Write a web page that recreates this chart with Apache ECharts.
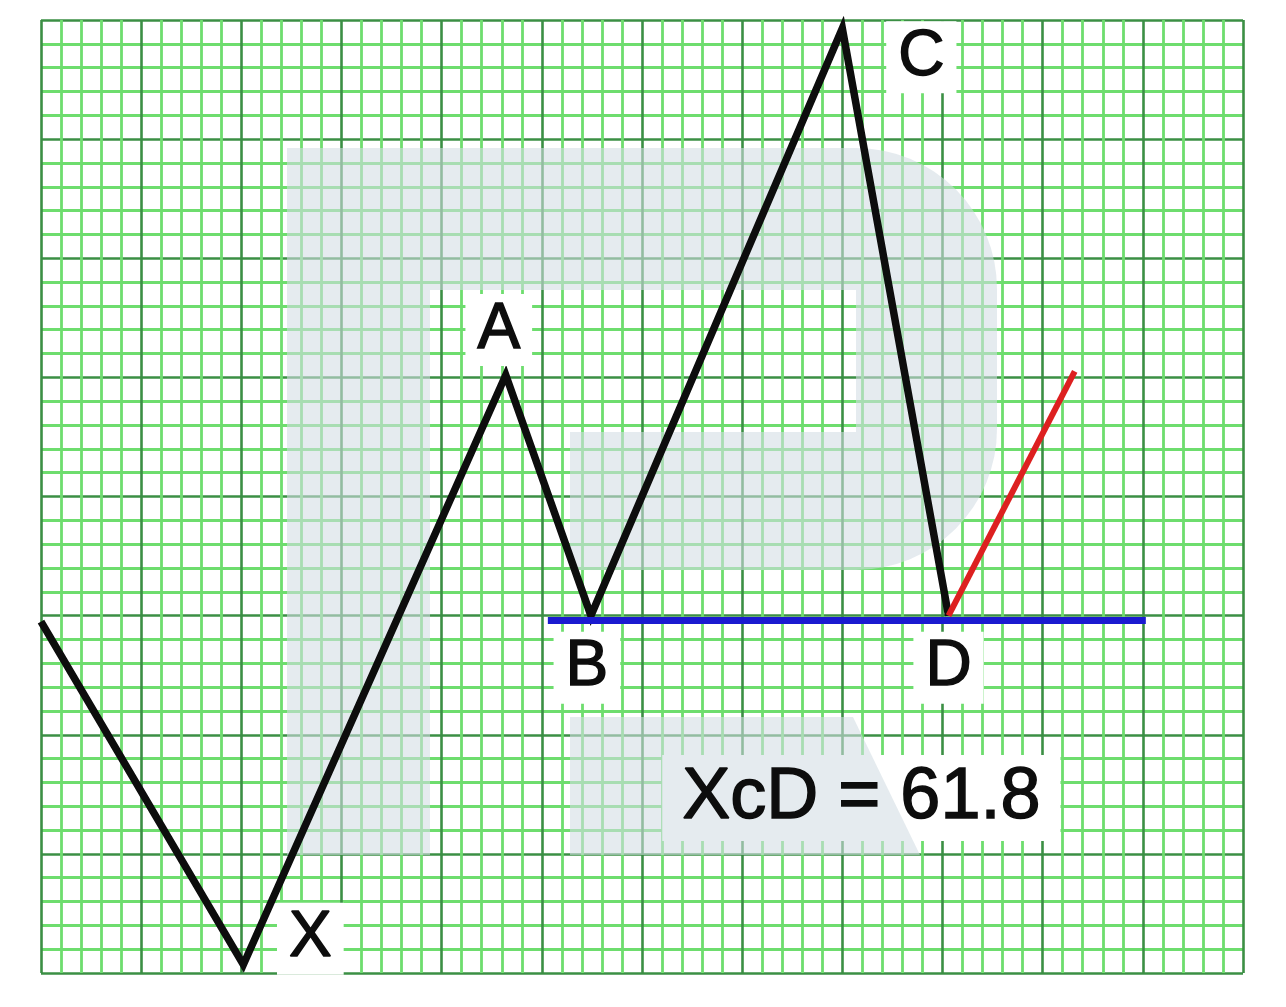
<!DOCTYPE html>
<html>
<head>
<meta charset="utf-8">
<script src="https://cdn.jsdelivr.net/npm/echarts@6/dist/echarts.min.js"></script>
<style>
html,body{margin:0;padding:0;background:#fff;}
#chart{width:1286px;height:1007px;}
</style>
</head>
<body>
<div id="chart"></div>
<script>
// ---- data ----
const pointNames = ['', 'X', 'A', 'B', 'C', 'D'];
const pathX = [0, 2.02, 4.64, 5.49, 8.0, 9.06];
const pathY = [2.95, 0.07, 5.02, 3.0, 7.93, 3.0];
const reboundX = [9.06, 10.32];
const reboundY = [3.0, 5.05];
const levelX = [5.06, 11.03];
const levelY = [2.96, 2.96];
const annotationText = ['XcD = 61.8'];
const annotationX = [8.19];
const annotationY = [1.47];
const xRange = [0, 12];
const yRange = [0, 8];

// ---- styles ----
const labelOffsets = { X: [67, -26], A: [-7, -45], B: [-4, 52], C: [79, 29], D: [0, 52] };
const FONT = '"Liberation Sans", Arial, sans-serif';

const zip = (xs, ys) => xs.map((x, i) => [x, ys[i]]);

const letterData = pathX.map((x, i) => ({
  value: [x, pathY[i]],
  name: pointNames[i],
  label: pointNames[i] ? { show: true, offset: labelOffsets[pointNames[i]] } : { show: false }
}));

const annoData = annotationX.map((x, i) => ({ value: [x, annotationY[i]], name: annotationText[i] }));

const chart = echarts.init(document.getElementById('chart'), null, { renderer: 'canvas' });

const axisCommon = {
  type: 'value',
  interval: 1,
  axisLabel: { show: false },
  axisTick: { show: false },
  axisLine: { show: false },
  splitLine: { show: true, lineStyle: { color: '#3b8f44', width: 2.6 } },
  minorTick: { show: false, splitNumber: 5 },
  minorSplitLine: { show: true, lineStyle: { color: '#6edd6e', width: 2.8 } }
};

// watermark (decorative) shapes, gray translucent
const wm = 'rgba(210,220,228,0.58)';
const graphic = [
  { type: 'rect', z: 1.5, silent: true, shape: { x: 287, y: 148, width: 143, height: 707 }, style: { fill: wm } },
  { type: 'rect', z: 1.5, silent: true, shape: { x: 430, y: 148, width: 426, height: 142 }, style: { fill: wm } },
  { type: 'rect', z: 1.5, silent: true, shape: { x: 856, y: 148, width: 141, height: 422, r: [0, 141, 141, 0] }, style: { fill: wm } },
  { type: 'rect', z: 1.5, silent: true, shape: { x: 570, y: 432, width: 286, height: 138 }, style: { fill: wm } },
  { type: 'polygon', z: 1.5, silent: true, shape: { points: [[570, 717], [853, 717], [920, 855], [570, 855]] }, style: { fill: wm } }
];

const option = {
  animation: false,
  backgroundColor: '#ffffff',
  grid: { left: 41, top: 20, width: 1202, height: 953, containLabel: false },
  xAxis: Object.assign({}, axisCommon, { min: xRange[0], max: xRange[1] }),
  yAxis: Object.assign({}, axisCommon, { min: yRange[0], max: yRange[1] }),
  graphic: graphic,
  series: [
    {
      name: 'pattern', type: 'line', z: 2, data: zip(pathX, pathY),
      symbol: 'none', silent: true,
      lineStyle: { color: '#0d0d0d', width: 7.5, join: 'miter', miterLimit: 10 }
    },
    {
      name: 'rebound', type: 'line', z: 3, data: zip(reboundX, reboundY),
      symbol: 'none', silent: true,
      lineStyle: { color: '#dd2020', width: 6 }
    },
    {
      name: 'level', type: 'line', z: 4, data: zip(levelX, levelY),
      symbol: 'none', silent: true,
      lineStyle: { color: '#1a1ad0', width: 7 }
    },
    {
      name: 'letters', type: 'scatter', z: 5, data: letterData,
      symbolSize: 0, silent: true, itemStyle: { opacity: 1 },
      label: {
        show: true, position: 'inside', formatter: '{b}',
        color: '#0d0d0d', fontFamily: FONT, fontSize: 64, lineHeight: 60,
        textBorderColor: '#0d0d0d', textBorderWidth: 1.5,
        backgroundColor: '#ffffff', padding: [6, 12], opacity: 1
      }
    },
    {
      name: 'annoBox', type: 'scatter', z: 1, data: annoData,
      symbolSize: 0, silent: true, itemStyle: { opacity: 1 },
      label: {
        show: true, position: 'inside', formatter: '{b}', offset: [0, 0],
        color: 'rgba(0,0,0,0)', fontFamily: FONT, fontSize: 72, lineHeight: 70,
        backgroundColor: '#ffffff', padding: [8, 20], opacity: 1
      }
    },
    {
      name: 'annoText', type: 'scatter', z: 6, data: annoData,
      symbolSize: 0, silent: true, itemStyle: { opacity: 1 },
      label: {
        show: true, position: 'inside', formatter: '{b}', offset: [0, 0],
        color: '#0d0d0d', fontFamily: FONT, fontSize: 72, lineHeight: 70,
        textBorderColor: '#0d0d0d', textBorderWidth: 1.5,
        padding: [8, 20], opacity: 1
      }
    }
  ]
};
chart.setOption(option);
</script>
</body>
</html>
